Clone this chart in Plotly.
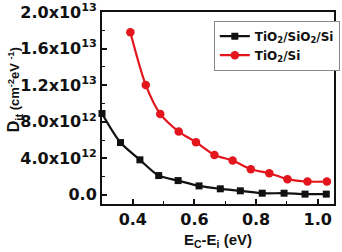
import plotly.graph_objects as go

# Data
x_sio2 = [0.300, 0.360, 0.423, 0.484, 0.547, 0.615, 0.684, 0.749, 0.820, 0.891, 0.959, 1.028]
y_sio2 = [8.9e12, 5.72e12, 3.83e12, 2.11e12, 1.56e12, 0.98e12, 0.66e12, 0.44e12, 0.18e12, 0.18e12, 0.08e12, 0.08e12]

x_si = [0.392, 0.442, 0.489, 0.549, 0.605, 0.665, 0.724, 0.783, 0.843, 0.902, 0.967, 1.030]
y_si = [17.78e12, 12.02e12, 8.85e12, 6.92e12, 5.76e12, 4.37e12, 3.75e12, 2.81e12, 2.37e12, 1.72e12, 1.45e12, 1.45e12]

y_tickvals = [0, 4e12, 8e12, 1.2e13, 1.6e13, 2.0e13]
y_ticktext = ["0.0", "4.0x10<sup>12</sup>", "8.0x10<sup>12</sup>", "1.2x10<sup>13</sup>",
              "1.6x10<sup>13</sup>", "2.0x10<sup>13</sup>"]
x_tickvals = [0.4, 0.6, 0.8, 1.0]
x_ticktext = ["0.4", "0.6", "0.8", "1.0"]

BLACK = "#111111"
RED = "#e3161e"
TICKFONT = dict(family="DejaVu Sans", size=16, color="#111111", weight="bold")

fig = go.Figure()
fig.add_trace(go.Scatter(
    x=x_sio2, y=y_sio2, mode="lines+markers", name="TiO<sub>2</sub>/SiO<sub>2</sub>/Si",
    line=dict(color=BLACK, width=2.2, shape="spline", smoothing=0.8),
    marker=dict(symbol="square", size=7, color=BLACK), cliponaxis=False))
fig.add_trace(go.Scatter(
    x=x_si, y=y_si, mode="lines+markers", name="TiO<sub>2</sub>/Si",
    line=dict(color=RED, width=2.2, shape="spline", smoothing=0.8),
    marker=dict(symbol="circle", size=8.5, color=RED), cliponaxis=False))

fig.update_layout(
    width=342, height=252,
    margin=dict(l=102, r=2, t=12, b=48),
    paper_bgcolor="white", plot_bgcolor="white",
    showlegend=True,
    legend=dict(x=0.482, y=0.955, xanchor="left", yanchor="top",
                bgcolor="white", bordercolor="#888888", borderwidth=1,
                font=dict(family="DejaVu Sans", size=12, color="#111111", weight="bold"),
                itemwidth=30, tracegroupgap=0),
    xaxis=dict(range=[0.3, 1.053], tickvals=x_tickvals, ticktext=x_ticktext,
               ticks="inside", ticklen=5, tickwidth=1.5, tickcolor=BLACK,
               minor=dict(ticks="inside", ticklen=3, tickwidth=1.2, tickcolor=BLACK, dtick=0.1, tick0=0.3),
               showline=True, linecolor=BLACK, linewidth=2, mirror=True,
               showgrid=False, zeroline=False, tickfont=TICKFONT,
               title=dict(text="E<sub>C</sub>-E<sub>i</sub> (eV)", standoff=6,
                          font=dict(family="Liberation Sans", size=15, color="#111111", weight="bold"))),
    yaxis=dict(range=[-1e12, 2.0e13], tickvals=y_tickvals, ticktext=y_ticktext,
               ticks="inside", ticklen=5, tickwidth=1.5, tickcolor=BLACK,
               minor=dict(ticks="inside", ticklen=3, tickwidth=1.2, tickcolor=BLACK, dtick=2e12, tick0=0),
               showline=True, linecolor=BLACK, linewidth=2, mirror=True,
               showgrid=False, zeroline=False, tickfont=TICKFONT),
    annotations=[dict(
        text="<span style='font-size:16px'>D<sub>it</sub></span> (cm<sup>-2</sup>eV <sup>-1</sup>)",
        xref="paper", yref="paper", x=(12 - 102) / 238.0, y=(204 - 90) / 192.0,
        xanchor="center", yanchor="middle", textangle=-90, showarrow=False,
        font=dict(family="Liberation Sans", size=13, color="#111111", weight="bold"))],
)

fig.write_html("out.html")
